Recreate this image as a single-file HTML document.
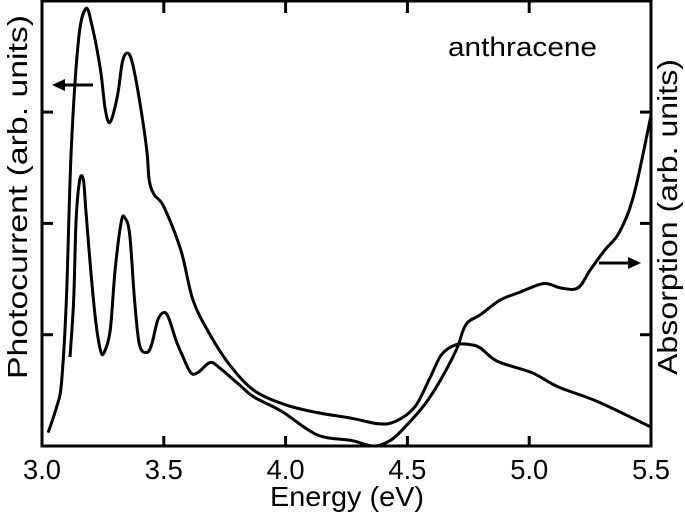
<!DOCTYPE html>
<html><head><meta charset="utf-8"><style>
html,body{margin:0;padding:0;background:#fff;}
svg{display:block;font-family:"Liberation Sans",sans-serif;}
svg text{font-size:28px;}
</style></head><body>
<svg id="chart" width="685" height="514" viewBox="0 0 685 514" xmlns="http://www.w3.org/2000/svg">
<g id="axes"></g>
<g id="series"></g>
<text x="448" y="56" style="font-size:27px" textLength="149" lengthAdjust="spacingAndGlyphs">anthracene</text>
<text x="347" y="506" style="font-size:28px" text-anchor="middle" textLength="154" lengthAdjust="spacingAndGlyphs">Energy (eV)</text>
<text transform="translate(27,197) rotate(-90)" style="font-size:28px" text-anchor="middle" textLength="364" lengthAdjust="spacingAndGlyphs">Photocurrent (arb. units)</text>
<text transform="translate(677,217) rotate(-90)" style="font-size:28px" text-anchor="middle" textLength="316" lengthAdjust="spacingAndGlyphs">Absorption (arb. units)</text>
<g>
<line x1="93" y1="85" x2="62" y2="85" stroke="#000" stroke-width="3"/>
<polygon points="52,85 65,79 65,91" fill="#000"/>
</g>
<g>
<line x1="599" y1="263" x2="630" y2="263" stroke="#000" stroke-width="3"/>
<polygon points="641,263 628,257 628,269" fill="#000"/>
</g>
</svg>
<script>
const xTicks=[3.0,3.5,4.0,4.5,5.0,5.5];
const xTickLabels=["3.0","3.5","4.0","4.5","5.0","5.5"];
const yTicks=[1,2,3];
const pcEnergy=[3.025,3.06,3.08,3.10,3.12,3.15,3.18,3.205,3.24,3.26,3.28,3.31,3.33,3.35,3.37,3.40,3.43,3.44,3.46,3.50,3.57,3.62,3.69,3.77,3.87,4.00,4.13,4.27,4.38,4.45,4.53,4.59,4.64,4.70,4.76,4.80,4.87,5.01,5.12,5.28,5.50];
const pcValue=[0.12,0.35,0.57,1.31,2.66,3.65,3.93,3.78,3.38,3.02,2.91,3.15,3.45,3.53,3.45,3.11,2.66,2.39,2.26,2.15,1.76,1.31,1.00,0.73,0.50,0.37,0.30,0.25,0.20,0.22,0.35,0.60,0.82,0.91,0.91,0.88,0.76,0.66,0.53,0.40,0.17];
const absEnergy=[3.115,3.13,3.14,3.155,3.17,3.18,3.20,3.22,3.24,3.255,3.28,3.30,3.325,3.34,3.36,3.38,3.40,3.43,3.45,3.475,3.50,3.52,3.55,3.575,3.61,3.64,3.69,3.73,3.81,3.87,3.985,4.13,4.27,4.36,4.43,4.49,4.57,4.63,4.70,4.74,4.80,4.88,4.96,5.06,5.13,5.20,5.25,5.31,5.37,5.43,5.50];
const absValue=[0.80,1.31,2.03,2.39,2.39,2.12,1.58,1.13,0.86,0.84,1.04,1.58,2.01,2.05,1.90,1.31,0.91,0.84,0.91,1.13,1.20,1.15,0.95,0.82,0.66,0.66,0.75,0.70,0.55,0.44,0.31,0.10,0.05,0.0,0.05,0.17,0.37,0.57,0.86,1.09,1.18,1.31,1.38,1.46,1.42,1.42,1.58,1.76,1.92,2.26,2.97];

const L=42,R=651,T=1,B=446;
const xs=e=>L+(e-3.0)/(5.5-3.0)*(R-L);
const ys=v=>B-v*111.3;
const NS="http://www.w3.org/2000/svg";
const axes=document.getElementById('axes');
const series=document.getElementById('series');
function mk(tag,attrs,parent){const el=document.createElementNS(NS,tag);for(const k in attrs)el.setAttribute(k,attrs[k]);parent.appendChild(el);return el;}

const frame=mk('rect',{x:L,y:T,width:R-L,height:B-T,fill:'none',stroke:'#000','stroke-width':3},axes);


xTicks.forEach((t,i)=>{
  const x=xs(t);
  if(i>0&&i<xTicks.length-1){
    const a=mk('line',{x1:x,y1:B,x2:x,y2:B-10,stroke:'#000','stroke-width':3},axes);
    
    
    const b=mk('line',{x1:x,y1:T,x2:x,y2:T+12,stroke:'#000','stroke-width':3},axes);
    
    
  }
  const tx=mk('text',{x:x,y:479,'text-anchor':'middle',textLength:38,lengthAdjust:'spacingAndGlyphs',style:'font-size:28px'},axes);
  tx.textContent=xTickLabels[i];
  
  
});
yTicks.forEach(t=>{
  const y=ys(t);
  const a=mk('line',{x1:L,y1:y,x2:L+11,y2:y,stroke:'#000','stroke-width':3},axes);
  
  
  const b=mk('line',{x1:R,y1:y,x2:R-11,y2:y,stroke:'#000','stroke-width':3},axes);
  
  
});
function smoothPath(E,V){
  const p=E.map((e,i)=>[xs(e),ys(V[i])]);
  let d='M'+p[0][0]+','+p[0][1];
  for(let i=0;i<p.length-1;i++){
    const p0=p[i-1]||p[i],p1=p[i],p2=p[i+1],p3=p[i+2]||p2;
    const c1=[p1[0]+(p2[0]-p0[0])/6,p1[1]+(p2[1]-p0[1])/6];
    const c2=[p2[0]-(p3[0]-p1[0])/6,p2[1]-(p3[1]-p1[1])/6];
    d+=' C'+c1+' '+c2+' '+p2;
  }
  return d;
}
const pc=mk('path',{d:smoothPath(pcEnergy,pcValue),fill:'none',stroke:'#000','stroke-width':3,'stroke-linejoin':'round'},series);


const ab=mk('path',{d:smoothPath(absEnergy,absValue),fill:'none',stroke:'#000','stroke-width':3,'stroke-linejoin':'round'},series);


</script>
</body></html>
